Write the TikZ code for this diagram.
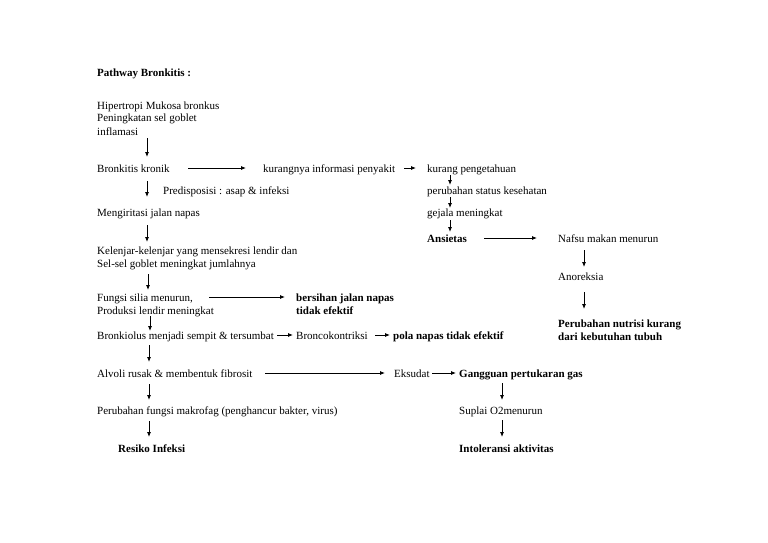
\documentclass[tikz,border=0pt]{standalone}
\usepackage{fontspec}
\setmainfont{Liberation Serif}
\usetikzlibrary{arrows.meta}
\begin{document}
\begin{tikzpicture}[
  txt/.style={anchor=base west, inner sep=0pt, font=\fontsize{11}{13}\selectfont},
  btxt/.style={txt, font=\fontsize{11}{13}\selectfont\bfseries},
  arr/.style={-{Latex[length=5pt,width=4pt]}, line width=0.8pt}
]
\fill[white] (0pt,0pt) rectangle (768pt,-543pt);
\path[use as bounding box] (0pt,0pt) rectangle (768pt,-543pt);

\node[btxt] (title) at (97pt,-76pt) {Pathway Bronkitis :};
\node[txt] (hip) at (97pt,-109pt) {\begin{tabular}[t]{@{}l@{}}Hipertropi Mukosa bronkus\\Peningkatan sel goblet\\inflamasi\end{tabular}};
\node[txt] (bk) at (97pt,-172pt) {Bronkitis kronik};
\node[txt] (kip) at (263pt,-172pt) {kurangnya informasi penyakit};
\node[txt] (kp) at (427pt,-172pt) {kurang pengetahuan};
\node[txt] (psk) at (427pt,-194pt) {perubahan status kesehatan};
\node[txt] (gm) at (427pt,-216pt) {gejala meningkat};
\node[btxt] (ans) at (427pt,-242pt) {Ansietas};
\node[txt] (naf) at (558pt,-242pt) {Nafsu makan menurun};
\node[txt] (ano) at (558pt,-280pt) {Anoreksia};
\node[btxt] (nut) at (558pt,-327pt) {\begin{tabular}[t]{@{}l@{}}Perubahan nutrisi kurang\\dari kebutuhan tubuh\end{tabular}};
\node[txt] (pre) at (163pt,-194pt) {Predisposisi : asap \& infeksi};
\node[txt] (mji) at (97pt,-216pt) {Mengiritasi jalan napas};
\node[txt] (kel) at (97pt,-254pt) {\begin{tabular}[t]{@{}l@{}}Kelenjar-kelenjar yang mensekresi lendir dan\\Sel-sel goblet meningkat jumlahnya\end{tabular}};
\node[txt] (fs) at (97pt,-301pt) {\begin{tabular}[t]{@{}l@{}}Fungsi silia menurun,\\Produksi lendir meningkat\end{tabular}};
\node[btxt] (ber) at (296pt,-301pt) {\begin{tabular}[t]{@{}l@{}}bersihan jalan napas\\tidak efektif\end{tabular}};
\node[txt] (bro) at (97pt,-339pt) {Bronkiolus menjadi sempit \& tersumbat};
\node[txt] (bck) at (296pt,-339pt) {Broncokontriksi};
\node[btxt] (pola) at (393pt,-339pt) {pola napas tidak efektif};
\node[txt] (alv) at (97pt,-377pt) {Alvoli rusak \& membentuk fibrosit};
\node[txt] (eks) at (394pt,-377pt) {Eksudat};
\node[btxt] (gg) at (459pt,-377pt) {Gangguan pertukaran gas};
\node[txt] (pf) at (97pt,-414pt) {Perubahan fungsi makrofag (penghancur bakter, virus)};
\node[btxt] (ri) at (118pt,-452pt) {Resiko Infeksi};
\node[txt] (sup) at (459pt,-414pt) {Suplai O2menurun};
\node[btxt] (int) at (459pt,-452pt) {Intoleransi aktivitas};

% arrows
\draw[arr] ([shift={(50pt,-29pt)}]hip.base west) -- ([shift={(50pt,15pt)}]bk.base west);
\draw[arr] ([shift={(91pt,4pt)}]bk.base west) -- ([shift={(-17pt,4pt)}]kip.base west);
\draw[arr] ([shift={(141pt,4pt)}]kip.base west) -- ([shift={(-11pt,4pt)}]kp.base west);
\draw[arr] ([shift={(23pt,-3pt)}]kp.base west) -- ([shift={(23pt,9pt)}]psk.base west);
\draw[arr] ([shift={(23pt,-3pt)}]psk.base west) -- ([shift={(23pt,8pt)}]gm.base west);
\draw[arr] ([shift={(23pt,-4pt)}]gm.base west) -- ([shift={(23pt,10pt)}]ans.base west);
\draw[arr] ([shift={(57pt,4pt)}]ans.base west) -- ([shift={(-21pt,4pt)}]naf.base west);
\draw[arr] ([shift={(26pt,-8pt)}]naf.base west) -- ([shift={(26pt,13pt)}]ano.base west);
\draw[arr] ([shift={(26pt,-12pt)}]ano.base west) -- ([shift={(26pt,18pt)}]nut.base west);
\draw[arr] ([shift={(50pt,-9pt)}]bk.base west) -- ([shift={(50pt,19pt)}]mji.base west);
\draw[arr] ([shift={(50pt,-9pt)}]mji.base west) -- ([shift={(50pt,12pt)}]kel.base west);
\draw[arr] ([shift={(51pt,-20pt)}]kel.base west) -- ([shift={(51pt,11pt)}]fs.base west);
\draw[arr] ([shift={(112pt,4pt)}]fs.base west) -- ([shift={(-11pt,4pt)}]ber.base west);
\draw[arr] ([shift={(53pt,-15pt)}]fs.base west) -- ([shift={(53pt,8pt)}]bro.base west);
\draw[arr] ([shift={(180pt,4pt)}]bro.base west) -- ([shift={(-3pt,4pt)}]bck.base west);
\draw[arr] ([shift={(79pt,4pt)}]bck.base west) -- ([shift={(-3pt,4pt)}]pola.base west);
\draw[arr] ([shift={(52pt,-6pt)}]bro.base west) -- ([shift={(52pt,15pt)}]alv.base west);
\draw[arr] ([shift={(168pt,4pt)}]alv.base west) -- ([shift={(-9pt,4pt)}]eks.base west);
\draw[arr] ([shift={(38pt,4pt)}]eks.base west) -- ([shift={(-3pt,4pt)}]gg.base west);
\draw[arr] ([shift={(52pt,-7pt)}]alv.base west) -- ([shift={(52pt,14pt)}]pf.base west);
\draw[arr] ([shift={(52pt,-7pt)}]pf.base west) -- ([shift={(31pt,15pt)}]ri.base west);
\draw[arr] ([shift={(43pt,-6pt)}]gg.base west) -- ([shift={(43pt,14pt)}]sup.base west);
\draw[arr] ([shift={(43pt,-6pt)}]sup.base west) -- ([shift={(43pt,15pt)}]int.base west);
\end{tikzpicture}
\end{document}
